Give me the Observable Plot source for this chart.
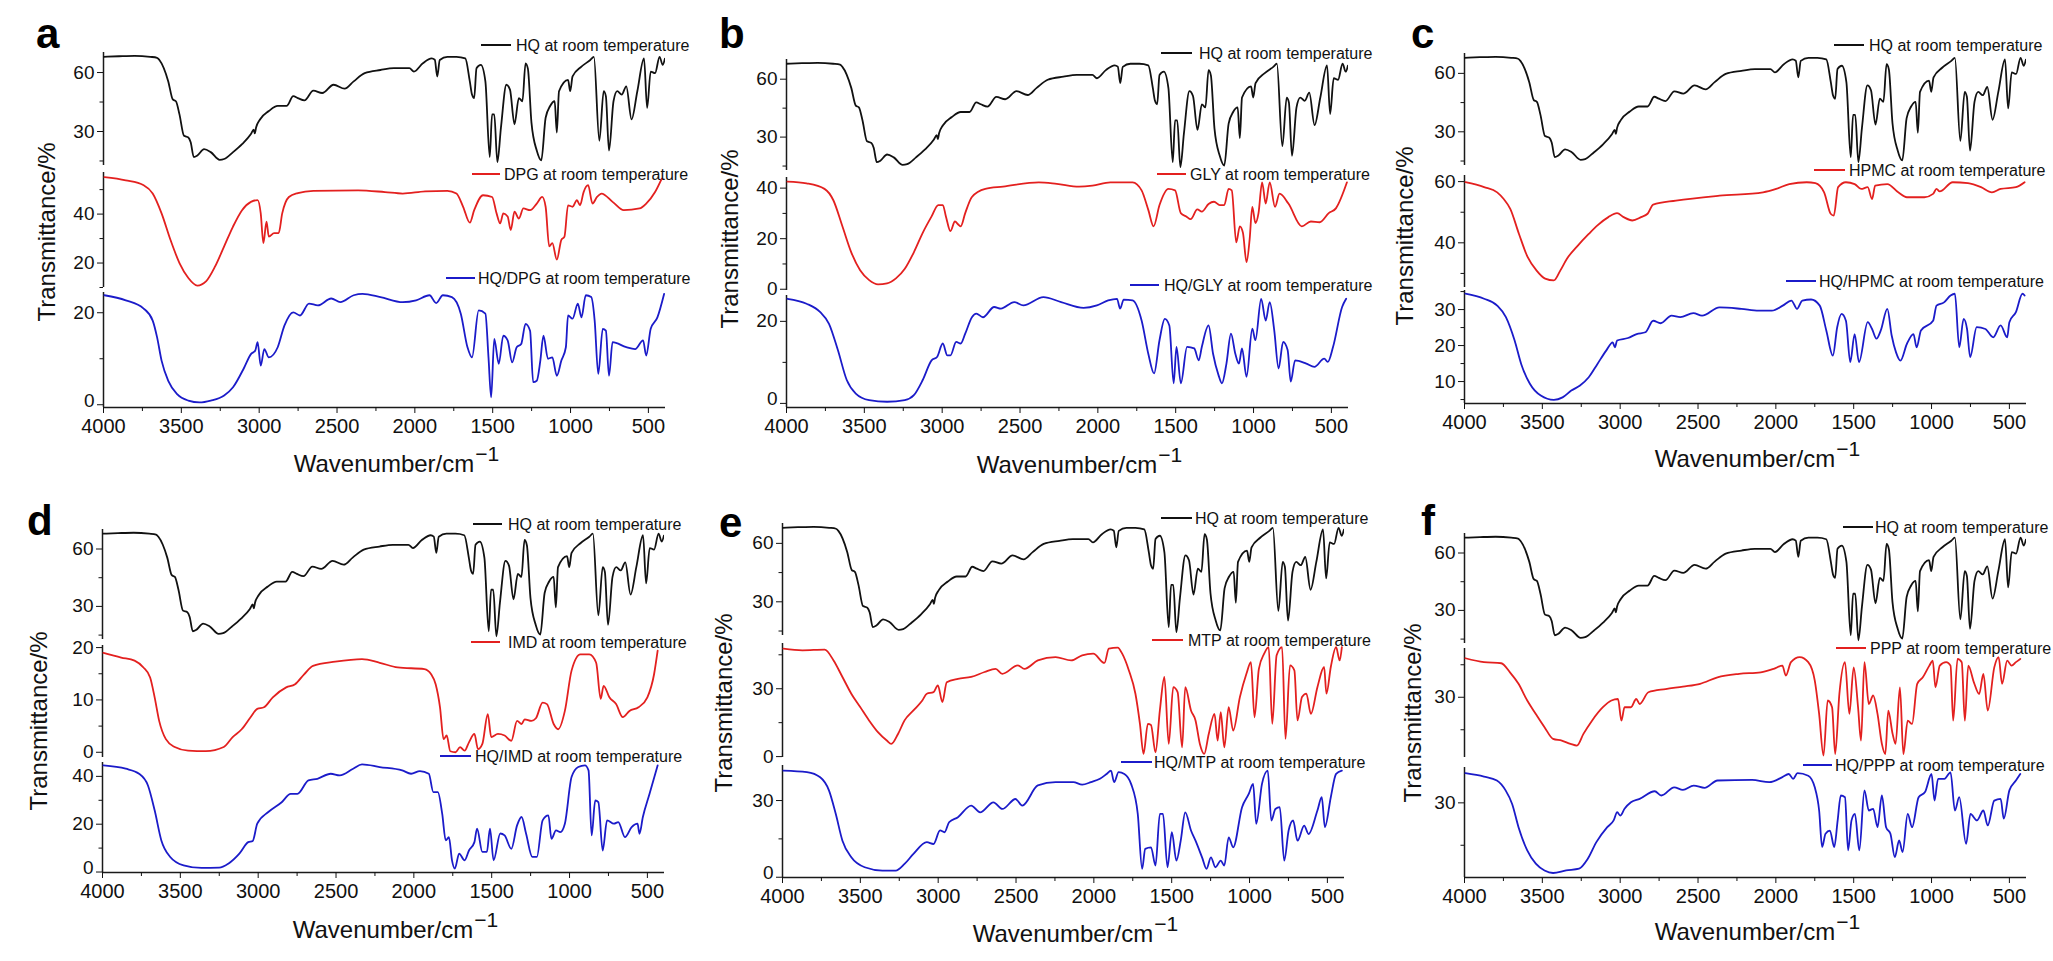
<!DOCTYPE html>
<html><head><meta charset="utf-8">
<script src="https://cdn.jsdelivr.net/npm/d3@7"></script>
<script src="https://cdn.jsdelivr.net/npm/@observablehq/plot@0.6"></script>
<style>
body{margin:0;background:#fff;}
#root{position:relative;width:2053px;height:961px;overflow:hidden;background:#fff;}
.sub{position:absolute;}
#overlay{position:absolute;left:0;top:0;pointer-events:none;}
</style></head><body><div id="root"></div>
<script>
// ---------- data: [wavenumber cm-1, transmittance %] ----------
const hq = [[4000,68],[3900,68.3],[3800,68.5],[3700,68],[3656,67.5],[3641,66.4],[3584,55.5],[3555,46.3],[3535,45.4],[3512,38.7],[3483,27.8],[3455,27],[3440,24.5],[3420,17],[3397,17.8],[3354,21],[3311,19.5],[3254,15.6],[3225,16],[3168,19.5],[3110,23.6],[3053,28.7],[3035,31],[3028,29],[3020,32],[2996,36],[2938,40.4],[2881,43],[2824,43],[2781,48],[2752,47],[2709,45.8],[2652,50.8],[2595,49.6],[2522,53.8],[2451,51.8],[2393,55.5],[2322,59.7],[2221,61.3],[2135,62.2],[2035,62.2],[2006,60.5],[1949,64.7],[1892,67.2],[1872,66.5],[1856,58],[1840,66.4],[1791,68],[1733,68],[1676,67.2],[1647,55.5],[1633,48.8],[1619,47],[1604,62.2],[1576,63.9],[1547,55.5],[1519,17],[1504,38.7],[1490,38.7],[1470,14.4],[1447,32],[1412,53.8],[1389,51.3],[1360,33.7],[1332,47],[1309,45.4],[1289,64.7],[1274,62],[1251,34.5],[1217,20.3],[1188,15.3],[1160,37],[1131,43],[1102,45.4],[1088,29.5],[1074,50.5],[1016,56.3],[1002,50.5],[987,58],[930,63],[873,66.4],[850,68],[815,25.3],[787,50.5],[773,48],[753,20.3],[724,45.4],[700,50.5],[671,48.8],[642,53],[608,36.2],[571,50.5],[528,67.2],[508,42],[485,60.5],[457,59.7],[428,68],[408,63.9],[394,67]];

const dpg = [[3994,55.1],[3857,53.8],[3742,51.8],[3684,48.4],[3627,40.3],[3570,29.5],[3512,20],[3455,13.9],[3397,10.8],[3340,12.6],[3283,18.6],[3225,26.8],[3168,34.9],[3110,41.6],[3053,45],[3010,45.7],[2990,40.3],[2973,28.1],[2953,36.9],[2938,30.8],[2904,32.2],[2875,32.2],[2852,40.3],[2809,47],[2752,48.6],[2652,49.5],[2365,49.7],[2192,49],[2078,48.4],[1934,49.3],[1791,49.5],[1733,48.4],[1690,43],[1647,36.5],[1619,41.6],[1562,47.7],[1504,47],[1475,40.3],[1452,36.2],[1432,40.3],[1404,39],[1384,33.5],[1360,41],[1332,38.2],[1303,42.3],[1260,41.6],[1217,44.3],[1182,47],[1160,43],[1137,26.8],[1117,28.1],[1088,21.4],[1059,29.5],[1039,30.8],[1016,43.6],[987,43],[959,45.7],[939,43.6],[916,49],[887,51.8],[859,44.3],[830,47],[801,48.4],[730,45],[658,41.6],[557,42.3],[514,44.3],[457,49],[414,54.5]];

const hqDpg = [[3994,23.8],[3857,22.7],[3742,20.9],[3684,18.3],[3656,14.7],[3627,9.6],[3584,5.2],[3527,2.3],[3455,0.9],[3383,0.5],[3311,0.9],[3225,2],[3168,3.8],[3096,8.1],[3053,11],[3025,11.8],[3010,13.6],[2990,8.5],[2967,12.1],[2938,10.3],[2881,12.5],[2838,17.2],[2781,20.1],[2738,19.4],[2680,22],[2623,21.6],[2537,23.1],[2479,22.3],[2393,23.8],[2336,24.1],[2221,23.4],[2078,22.3],[1992,22.7],[1906,23.8],[1863,22.1],[1820,23.8],[1762,23.4],[1705,19.8],[1662,12.5],[1633,10.3],[1590,20.5],[1547,19.8],[1527,10.3],[1510,1.6],[1490,14.3],[1461,8.9],[1432,15],[1404,14],[1375,9.2],[1346,12.5],[1317,13.2],[1289,17.6],[1260,16.1],[1240,4.9],[1217,5.2],[1194,9.6],[1174,15],[1145,10],[1117,10.3],[1088,6.3],[1059,9.6],[1030,12.5],[1016,19.4],[987,18.7],[953,22],[930,19],[902,23.8],[867,23.4],[845,18.3],[822,6.7],[793,16.5],[773,16.1],[753,6.3],[730,13.6],[642,12.5],[585,12.1],[534,14],[514,10.7],[485,16.5],[442,19],[399,24.1]];

const gly = [[3994,42.6],[3871,41.9],[3756,39.7],[3699,35.2],[3641,24.9],[3584,14.6],[3527,7.5],[3469,3.6],[3412,1.9],[3354,2.3],[3297,4.3],[3240,8.1],[3182,14.6],[3125,22.3],[3068,28.8],[3025,33.3],[2996,33.3],[2976,28.8],[2947,23],[2918,26.8],[2895,25.5],[2881,24.9],[2852,30.1],[2809,36.5],[2723,39.7],[2609,40.6],[2379,42.3],[2264,41.7],[2121,40.6],[2035,41],[1920,42.3],[1777,42.3],[1719,39.1],[1676,31.4],[1642,24.9],[1604,33.3],[1547,39.7],[1504,39.1],[1467,30.1],[1432,28.8],[1404,27.7],[1361,31.6],[1332,30.7],[1289,33.7],[1254,34.6],[1217,33.3],[1188,33.3],[1160,39.7],[1140,39.1],[1111,18.5],[1088,24.9],[1068,22.3],[1045,10.7],[1025,19.7],[1008,32.6],[988,26.2],[968,30.1],[945,42.3],[922,33.9],[896,42.3],[862,32.6],[833,37.8],[776,33.9],[690,24.9],[632,26.8],[575,26.5],[517,30.1],[471,32],[400,42.3]];

const hqGly = [[3994,25.5],[3871,24.3],[3785,22.3],[3727,19.4],[3670,13],[3613,5.7],[3555,2.4],[3469,0.8],[3354,0.4],[3240,0.8],[3182,2],[3125,5.7],[3068,10.5],[3033,11.3],[2996,14.6],[2967,11.7],[2947,11.7],[2910,15],[2881,14.6],[2852,17],[2809,21],[2781,21.9],[2738,21],[2666,23.5],[2623,23.1],[2537,24.7],[2479,23.9],[2350,25.9],[2236,24.7],[2092,23.3],[2006,23.9],[1934,25.1],[1877,25.5],[1857,23.1],[1834,25.3],[1777,25.1],[1719,20.2],[1676,12.1],[1639,7.3],[1604,15.4],[1570,20.6],[1541,19],[1513,4.9],[1495,13.8],[1467,4.9],[1427,13.8],[1381,13.4],[1352,10.5],[1332,13.8],[1289,19],[1260,12.1],[1225,6.9],[1203,4.9],[1174,9.7],[1145,17],[1117,12.1],[1094,9.7],[1074,13.4],[1045,6.5],[1008,18.2],[988,15.4],[951,25.5],[922,20.2],[896,24.7],[867,17.8],[839,8.5],[810,15],[781,13],[761,5.3],[733,10.5],[661,9.7],[609,8.9],[546,10.9],[523,10.1],[489,13.8],[431,23.5],[405,25.5]];

const hpmc = [[3994,59.8],[3874,58.2],[3790,56.5],[3748,54.3],[3706,51.1],[3650,42.9],[3594,35.3],[3538,31],[3482,28.3],[3426,27.7],[3384,31],[3342,34.8],[3272,39.1],[3202,42.9],[3146,45.7],[3076,48.4],[3020,49.7],[2978,48.4],[2922,47.3],[2866,48.4],[2824,49.5],[2788,52.5],[2642,53.8],[2362,55.4],[2082,56.5],[1998,57.6],[1914,59.2],[1802,59.8],[1746,59.5],[1690,56.5],[1648,49.5],[1628,48.9],[1600,58.2],[1550,59.8],[1494,59.2],[1452,57.6],[1410,58.2],[1382,54.3],[1362,58.7],[1284,59.2],[1214,56.5],[1158,54.9],[1046,54.9],[990,56],[968,57.6],[948,56.8],[864,59.8],[766,59.5],[682,58.2],[612,56.5],[556,57.6],[458,58.2],[402,59.8]];

const hqHpmc = [[3994,34.4],[3874,33],[3790,31.1],[3734,27.9],[3678,21.4],[3636,14.9],[3580,9.4],[3510,6.1],[3426,4.9],[3370,5.6],[3314,7.5],[3258,8.9],[3202,11.2],[3146,14.9],[3090,18.6],[3048,20.9],[3034,19.5],[3020,21.4],[2950,22.1],[2894,23.2],[2838,23.7],[2788,26.9],[2740,26.2],[2670,28.3],[2614,27.9],[2530,29],[2474,28.3],[2362,30.6],[2222,30.2],[2110,29.7],[2026,29.7],[1956,31.1],[1900,32.5],[1864,30.2],[1830,32.5],[1774,32.8],[1718,31.1],[1676,24.2],[1634,17.2],[1606,25.1],[1578,28.8],[1550,26.9],[1522,15.4],[1494,23.2],[1466,15.4],[1410,26.5],[1382,24.6],[1354,21.9],[1326,24.2],[1284,30.2],[1256,22.8],[1228,18.1],[1200,15.8],[1158,20.5],[1116,23.2],[1096,19.5],[1068,24.2],[990,26.9],[968,31.1],[920,32],[878,33.9],[850,34.4],[822,19.5],[794,27.4],[772,24.6],[752,16.8],[710,25.1],[654,24.6],[604,22.3],[556,25.6],[514,22.3],[500,26.5],[458,29.3],[416,34.4],[402,33.9]];

const imd = [[3994,19],[3880,18.1],[3794,17.5],[3737,16.2],[3694,14.3],[3665,10.5],[3636,6],[3593,2.5],[3536,1],[3450,0.3],[3336,0.2],[3221,1],[3164,2.9],[3106,4.4],[3049,6.7],[3006,8.3],[2963,8.6],[2906,10.5],[2820,12.4],[2763,13],[2705,14.9],[2648,16.5],[2505,17.3],[2333,17.8],[2219,17.1],[2104,16.2],[1932,15.9],[1889,14.9],[1860,13],[1832,8.6],[1809,2.5],[1789,3.2],[1766,0.2],[1732,0],[1703,1],[1674,0.3],[1646,1.9],[1611,3.5],[1588,0.6],[1560,1.6],[1525,7.3],[1503,2.9],[1460,3.5],[1417,3.2],[1374,2.2],[1337,6],[1308,5.4],[1288,6.3],[1245,6],[1216,6.5],[1173,9.5],[1145,9.2],[1102,5.4],[1073,4.4],[1030,7.9],[987,15.6],[930,18.7],[873,18.7],[829,17.1],[800,10.2],[781,12.7],[744,10.5],[701,9.2],[658,6.7],[615,7.9],[557,8.6],[500,10.5],[457,14.9],[434,19.4]];

const hqImd = [[3994,44.6],[3851,43.2],[3765,41.1],[3708,36.2],[3665,25.8],[3622,13.2],[3565,6.3],[3479,2.8],[3364,1.7],[3250,1.8],[3192,3.5],[3121,7.7],[3064,12.5],[3035,13],[3006,20.2],[2935,25.1],[2849,29.2],[2791,32.7],[2748,32.7],[2677,38.3],[2620,39],[2534,41.1],[2476,40.4],[2390,43.2],[2333,45],[2219,43.9],[2075,42.5],[2018,41.1],[1961,42.2],[1904,41.1],[1875,33.4],[1846,33.4],[1818,24.4],[1795,13.2],[1775,14.6],[1755,4.9],[1737,1.4],[1709,7.7],[1674,4.9],[1646,9],[1611,12.5],[1594,18.1],[1560,8.4],[1531,8.4],[1511,18.1],[1488,4.9],[1445,16.1],[1417,15.3],[1374,9.7],[1337,19.5],[1308,23],[1279,16],[1239,6.3],[1210,6.3],[1173,21.6],[1136,23.7],[1116,13.9],[1087,17.4],[1059,16.7],[1030,20.2],[987,39.7],[944,43.9],[901,44.6],[878,42.5],[858,15.3],[835,29.9],[815,29.2],[787,9],[759,21.6],[715,20.2],[687,20.9],[644,14.6],[601,18.8],[563,20.2],[551,16],[529,23],[486,32.7],[434,44.6]];

const mtp = [[3994,47.7],[3872,47],[3729,47.3],[3672,42.5],[3615,35.2],[3558,27.8],[3501,21.9],[3444,16],[3387,10.8],[3330,7.1],[3301,5.6],[3258,10],[3216,16],[3159,20.4],[3102,24.8],[3073,27.8],[3030,28.5],[3002,31.5],[2973,24.1],[2945,32.9],[2873,34.4],[2788,35.2],[2702,37.4],[2631,38.8],[2588,36.6],[2488,40.3],[2446,38.8],[2360,42.5],[2246,44],[2146,42.5],[2075,44.8],[2004,45.5],[1932,41.4],[1904,47.7],[1847,48.2],[1818,45.5],[1775,38.1],[1733,27.8],[1704,14.5],[1681,1.2],[1653,14.5],[1633,14],[1604,1.9],[1576,20.4],[1547,35.2],[1519,5.6],[1490,30.7],[1462,28.5],[1433,4.1],[1413,30.7],[1376,20.4],[1347,16],[1319,5.6],[1291,1.2],[1262,10],[1225,18.9],[1205,7.1],[1185,19.6],[1162,4.1],[1134,21.9],[1105,11.5],[1062,26.3],[1020,36.6],[991,41.8],[968,17.4],[940,38.8],[906,45.5],[877,48.4],[854,14.5],[826,44.8],[791,48.4],[769,7.8],[740,40.3],[712,38.1],[692,16],[663,26.3],[635,27.8],[606,18.9],[564,30.7],[521,39.6],[506,27.8],[478,39.6],[444,48.4],[421,42.5],[407,48.4]];

const hqMtp = [[3994,41.7],[3843,41.1],[3758,39.1],[3701,33.9],[3658,24.8],[3615,14.3],[3558,7.8],[3472,3.9],[3358,2.6],[3273,2.6],[3216,5.2],[3159,9.1],[3073,13.7],[3030,13],[2988,18.3],[2959,17.6],[2930,21.5],[2873,23.5],[2788,28],[2731,25.4],[2645,29.3],[2588,26.7],[2503,30.6],[2460,28],[2360,35.9],[2246,37.2],[2132,37.2],[2075,36.2],[2018,37.2],[1961,38.5],[1918,40.4],[1890,41.7],[1870,37.2],[1841,41.1],[1804,40.4],[1761,36.5],[1718,24.8],[1690,3.3],[1670,11.1],[1633,11.7],[1604,4.6],[1576,24.8],[1556,24.8],[1527,3.9],[1499,17.6],[1470,6.5],[1442,14.3],[1413,25.4],[1376,18.3],[1347,14.3],[1305,7.8],[1276,3.3],[1248,7.8],[1219,3.9],[1185,6.5],[1162,4.6],[1134,15.6],[1105,11.7],[1048,27.4],[1005,32.6],[977,36.5],[957,20.9],[920,36.5],[883,41.7],[860,22.2],[834,26.7],[806,27.4],[777,6.5],[749,18.3],[720,22.2],[692,14.3],[649,20.2],[621,16.9],[564,26.1],[536,31.3],[516,19.6],[478,31.3],[444,40.4],[407,41.7]];

const ppp = [[3994,48],[3875,46.2],[3764,45.7],[3708,41.5],[3653,36.2],[3597,28.5],[3542,22.3],[3486,16.2],[3431,10.8],[3375,10],[3319,8.5],[3278,7.7],[3236,13.1],[3181,19.2],[3111,25.4],[3056,28.5],[3014,29.2],[2992,19.2],[2972,25.4],[2931,25.4],[2897,29.2],[2875,26.9],[2819,32.3],[2708,33.8],[2597,34.9],[2486,36.2],[2375,39.2],[2236,40.8],[2097,41.5],[2014,43.1],[1958,44.6],[1936,40],[1903,46.2],[1847,48.5],[1792,46.2],[1750,37.7],[1722,22.3],[1694,3.1],[1667,28.5],[1639,25.4],[1619,3.8],[1592,31.5],[1556,46.2],[1528,22.3],[1500,43.8],[1472,25.4],[1453,10],[1431,46.2],[1403,26.9],[1375,30.8],[1347,22.3],[1319,8.5],[1297,3.8],[1278,23.8],[1250,13.1],[1231,8.5],[1203,34.6],[1181,3.8],[1153,19.2],[1125,17.7],[1092,36.2],[1056,39.2],[1014,44.6],[992,46.9],[975,34.6],[947,44.6],[906,46.2],[878,44.6],[861,19.2],[833,47.7],[806,46.2],[786,19.2],[764,44.6],[728,36.9],[694,31.5],[667,40.8],[639,23.8],[597,43.8],[569,48.5],[547,36.2],[514,46.9],[486,44.6],[458,46.2],[430,47.7]];

const hqPpp = [[3994,40.5],[3875,39.3],[3792,37.9],[3736,34.4],[3694,29.6],[3653,21.4],[3597,13.2],[3542,8.5],[3486,6.1],[3431,5.2],[3347,6.1],[3264,6.7],[3208,10.2],[3153,16.1],[3083,21.4],[3042,23.8],[3019,26.7],[3000,25.5],[2972,27.9],[2931,30.2],[2875,31.4],[2778,34.1],[2736,32.6],[2653,35.5],[2597,34.6],[2528,36.1],[2458,35.3],[2375,37.9],[2153,38.1],[2042,37.3],[1958,39.1],[1917,40.2],[1889,38.5],[1861,40.5],[1792,39.6],[1750,35.5],[1722,27.3],[1703,14.4],[1681,19.1],[1653,20.2],[1625,14.4],[1603,23.8],[1583,32.6],[1556,32],[1536,13.2],[1514,23.8],[1492,26.1],[1464,13.2],[1431,34.4],[1403,27.3],[1375,27.9],[1347,21.4],[1319,32.6],[1292,21.4],[1264,19.1],[1236,10.8],[1208,16.7],[1186,12.6],[1153,26.1],[1125,21.4],[1083,32],[1042,33.8],[1000,40.2],[981,30.8],[958,38.5],[917,38.5],[878,40.8],[850,27.3],[822,32],[778,15.5],[750,26.1],[708,23.8],[667,27.3],[639,22],[597,30.8],[556,31.4],[536,24.4],[500,34.4],[458,37.9],[430,40.2]];

// tick labels
const xTicks = [4000, 3500, 3000, 2500, 2000, 1500, 1000, 500];
const xMinorTicks = [3750, 3250, 2750, 2250, 1750, 1250, 750];
const panelLetters = ["a", "b", "c", "d", "e", "f"];
const additives = ["DPG", "GLY", "HPMC", "IMD", "MTP", "PPP"];
const additiveSeries = [dpg, gly, hpmc, imd, mtp, ppp];
const mixtureSeries = [hqDpg, hqGly, hqHpmc, hqImd, hqMtp, hqPpp];
// y axis per trace: [domain, major ticks, minor ticks]
const blackAxis = [[12.7, 70.2], [30, 60], [15, 45]];
const redAxes = [
  [[10, 57], [20, 40], [10, 30, 50]],
  [[-0.5, 44.2], [0, 20, 40], [10, 30]],
  [[25.4, 62], [40, 60], [30, 50]],
  [[-1, 20.4], [0, 10, 20], [5, 15]],
  [[-0.4, 50], [0, 30], [15, 45]],
  [[2.2, 52.5], [30], [15, 45]]
];
const blueAxes = [
  [[-0.6, 24.4], [0, 20], [10]],
  [[-1, 26.3], [0, 20], [10]],
  [[3.9, 35.3], [10, 20, 30], [5, 15, 25, 35]],
  [[-0.2, 45.8], [0, 20, 40], [10, 30]],
  [[-0.1, 43.7], [0, 30], [15]],
  [[3.6, 42.5], [30], [15]]
];

// ---------- layout (pixels) ----------
const FONT = '"Liberation Sans", Arial, Helvetica, sans-serif';
const AX = "#1a1a1a", BLACK = "#111111", RED = "#e3201f", BLUE = "#1b1bc9";
const PLOT_W = 562;
const layout = [
  {left:103, rows:[[52,165],[172,287],[292,407]], letter:[36,48], ylab:[46,232], xlabY:472,
   leg:[[481,511,45,516],[472,500,174,504],[446,475,278,478]]},
  {left:786, rows:[[59,170],[177,290],[295,407]], letter:[719,48], ylab:[729,239], xlabY:473,
   leg:[[1161,1192,53,1199],[1157,1186,174,1190],[1130,1159,285,1164]]},
  {left:1464, rows:[[53,165],[175,287],[290,403]], letter:[1411,48], ylab:[1404,236], xlabY:467,
   leg:[[1834,1864,45,1869],[1814,1845,170,1849],[1786,1816,281,1819]]},
  {left:102, rows:[[529,639],[645,757],[762,872]], letter:[27,535], ylab:[38,721], xlabY:938,
   leg:[[473,502,524,508],[471,500,642,508],[440,471,756,475]]},
  {left:782, rows:[[523,635],[643,757],[765,877]], letter:[719,537], ylab:[723,703], xlabY:942,
   leg:[[1161,1192,518,1195],[1152,1183,640,1188],[1121,1152,762,1154]]},
  {left:1464, rows:[[533,643],[648,757],[767,877]], letter:[1421,535], ylab:[1412,713], xlabY:940,
   leg:[[1843,1873,527,1875],[1836,1866,648,1870],[1803,1832,765,1835]]}
];

const root = document.getElementById("root");

function sub(series, color, axisSpec, left, top, bottom, withX) {
  const [dom, major, minor] = axisSpec;
  const mL = 50, mR = 8, mT = 12, mB = withX ? 40 : 12;
  const fmt = d => String(d);
  const hasZero = withX && major.includes(0);
  const upper = hasZero ? major.filter(v => v !== 0) : major;
  const marks = [
    Plot.ruleX([4000], {stroke: AX, strokeWidth: 1.5}),
    Plot.axisY(upper, {tickSize: 6, tickPadding: 3, fontSize: 19, tickFormat: fmt, label: null}),
    Plot.axisY(minor, {tickSize: 3.5, fill: "none", label: null}),
    Plot.line(series, {x: d => d[0], y: d => d[1], stroke: color, strokeWidth: 1.8, curve: "monotone-x", clip: true})
  ];
  if (withX) {
    if (hasZero) {
      marks.push(
        Plot.axisY([0], {tickSize: 6, fill: "none", label: null}),
        Plot.axisY([0], {tickSize: 0, tickPadding: 9, fontSize: 19, dy: -4, tickFormat: fmt, label: null})
      );
    }
    marks.push(
      Plot.ruleY([dom[0]], {stroke: AX, strokeWidth: 1.5}),
      Plot.axisX(xTicks, {tickSize: 6, tickPadding: 5, fontSize: 20, tickFormat: fmt, label: null}),
      Plot.axisX(xMinorTicks, {tickSize: 4, fill: "none", label: null})
    );
  }
  const chart = Plot.plot({
    width: PLOT_W + mL + mR,
    height: (bottom - top) + mT + mB,
    marginLeft: mL, marginRight: mR, marginTop: mT, marginBottom: mB,
    style: {background: "transparent", overflow: "visible", fontFamily: FONT, color: "#111"},
    x: withX ? {domain: [4000, 390]} : {domain: [4000, 390], axis: null},
    y: {domain: dom, axis: null},
    marks
  });
  const div = document.createElement("div");
  div.className = "sub";
  div.style.left = (left - mL) + "px";
  div.style.top = (top - mT) + "px";
  div.appendChild(chart);
  root.appendChild(div);
}

layout.forEach((L, i) => {
  sub(hq, BLACK, blackAxis, L.left, L.rows[0][0], L.rows[0][1], false);
  sub(additiveSeries[i], RED, redAxes[i], L.left, L.rows[1][0], L.rows[1][1], false);
  sub(mixtureSeries[i], BLUE, blueAxes[i], L.left, L.rows[2][0], L.rows[2][1], true);
});

// ---------- text overlay: panel letters, axis titles, legends ----------
const svg = d3.select(root).append("svg").attr("id", "overlay")
  .attr("width", 2053).attr("height", 961)
  .style("font-family", FONT);

layout.forEach((L, i) => {
  svg.append("text").attr("x", L.letter[0]).attr("y", L.letter[1])
    .attr("font-size", 42).attr("font-weight", "bold").attr("fill", "#000").text(panelLetters[i]);
  svg.append("text")
    .attr("transform", `translate(${L.ylab[0] + 8.5},${L.ylab[1]}) rotate(-90)`)
    .attr("text-anchor", "middle").attr("font-size", 24).attr("fill", "#111")
    .text("Transmittance/%");
  const cx = L.left + PLOT_W / 2;
  const t = svg.append("text").attr("x", cx).attr("y", L.xlabY)
    .attr("text-anchor", "middle").attr("font-size", 24).attr("fill", "#111")
    .text("Wavenumber/cm");
  const bb = t.node().getBBox();
  svg.append("text").attr("x", bb.x + bb.width + 1).attr("y", L.xlabY - 11)
    .attr("font-size", 21).attr("fill", "#111").text("\u22121");
  const names = ["HQ", additives[i], "HQ/" + additives[i]];
  const colors = [BLACK, RED, BLUE];
  L.leg.forEach((g, k) => {
    svg.append("line").attr("x1", g[0]).attr("x2", g[1]).attr("y1", g[2]).attr("y2", g[2])
      .attr("stroke", colors[k]).attr("stroke-width", 2);
    svg.append("text").attr("x", g[3]).attr("y", g[2] + 5.8)
      .attr("font-size", 16).attr("fill", "#111").text(names[k] + " at room temperature");
  });
});
</script></body></html>
